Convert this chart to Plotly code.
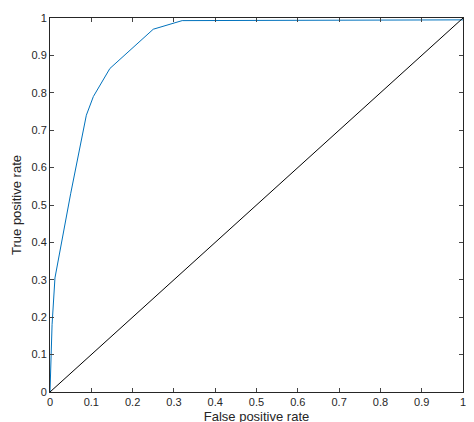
import plotly.graph_objects as go

# ROC curve points
fpr = [0, 0.005, 0.012, 0.05, 0.088, 0.105, 0.145, 0.25, 0.32, 0.6, 1.0]
tpr = [0, 0.18, 0.305, 0.53, 0.74, 0.79, 0.865, 0.97, 0.993, 0.993, 0.995]
diag = [0, 1]
ticks = [0, 0.1, 0.2, 0.3, 0.4, 0.5, 0.6, 0.7, 0.8, 0.9, 1]

fig = go.Figure()
fig.add_trace(go.Scatter(x=fpr, y=tpr, mode="lines", line=dict(color="#0072BD", width=1)))
fig.add_trace(go.Scatter(x=diag, y=diag, mode="lines", line=dict(color="black", width=1)))

axis = dict(range=[0, 1], tickvals=ticks, ticktext=[f"{t:g}" for t in ticks],
            ticks="inside", ticklen=4, showline=True, mirror="ticks", linecolor="#262626",
            linewidth=1, showgrid=False, zeroline=False, automargin=False,
            tickfont=dict(size=11, color="#262626"))
fig.update_layout(
    width=474, height=422, showlegend=False,
    plot_bgcolor="white", paper_bgcolor="white",
    font=dict(family="Liberation Sans", size=11, color="#262626"),
    margin=dict(l=42, r=19, t=10, b=38),
    xaxis=dict(axis, title=dict(text="False positive rate", standoff=4)),
    yaxis=dict(axis, title=dict(text="True positive rate", standoff=6)),
)
fig.write_html("out.html")
